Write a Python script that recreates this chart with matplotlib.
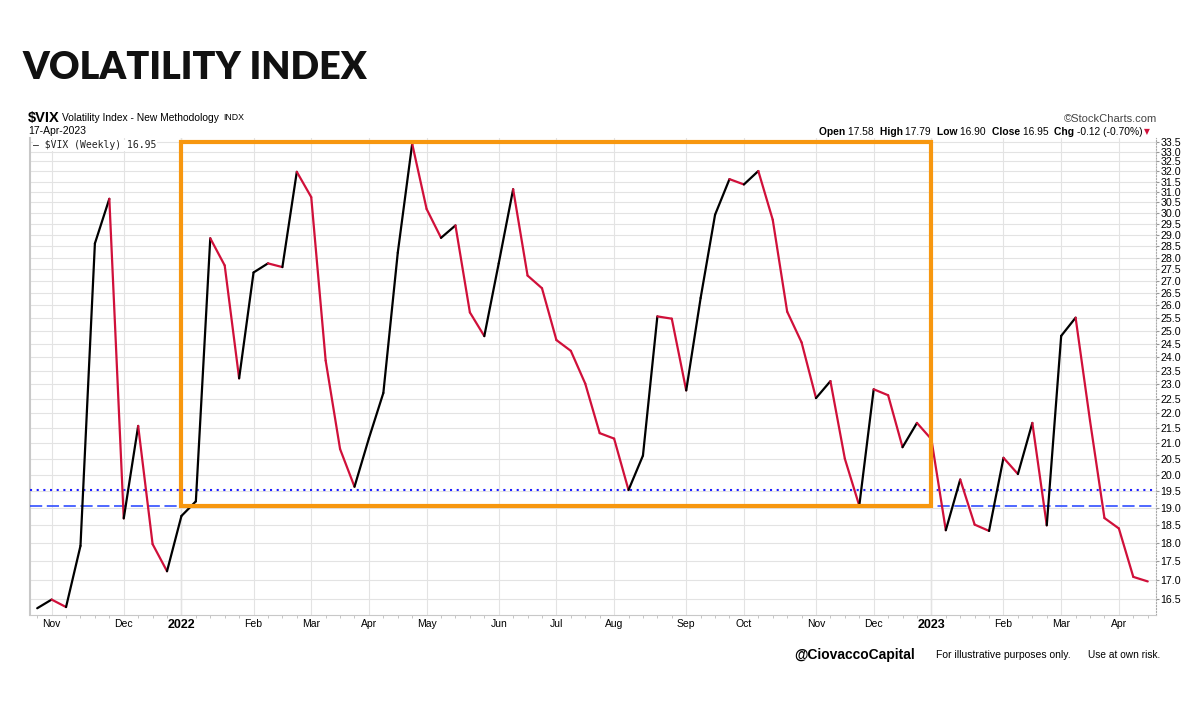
import matplotlib
matplotlib.use("Agg")
import matplotlib.pyplot as plt
import matplotlib.dates as mdates
import matplotlib.ticker as mticker
import numpy as np
import pandas as pd
from matplotlib.patches import Rectangle

# ---- data ----
start_week = "2021-10-25"
vix_weekly = [16.26, 16.48, 16.29, 17.91, 28.62, 30.67, 18.69, 21.57, 17.96, 17.22,
              18.76, 19.19, 28.85, 27.66, 23.22, 27.36, 27.75, 27.59, 31.98, 30.75,
              23.87, 20.81, 19.63, 21.16, 22.70, 28.21, 33.40, 30.19, 28.87, 29.43,
              25.72, 24.79, 27.75, 31.13, 27.23, 26.70, 24.64, 24.23, 23.03, 21.33,
              21.15, 19.53, 20.60, 25.56, 25.47, 22.79, 26.30, 29.92, 31.62, 31.36,
              32.02, 29.69, 25.75, 24.55, 22.52, 23.12, 20.50, 19.06, 22.83, 22.62,
              20.87, 21.67, 21.13, 18.35, 19.85, 18.51, 18.33, 20.53, 20.02, 21.67,
              18.49, 24.80, 25.51, 21.74, 18.70, 18.40, 17.07, 16.95]
month_ticks = ["2021-11-01", "2021-12-06", "2022-01-03", "2022-02-07", "2022-03-07",
               "2022-04-04", "2022-05-02", "2022-06-06", "2022-07-04", "2022-08-01",
               "2022-09-05", "2022-10-03", "2022-11-07", "2022-12-05", "2023-01-02",
               "2023-02-06", "2023-03-06", "2023-04-03"]
month_labels = ["Nov", "Dec", "2022", "Feb", "Mar", "Apr", "May", "Jun", "Jul", "Aug",
                "Sep", "Oct", "Nov", "Dec", "2023", "Feb", "Mar", "Apr"]
y_ticks = [16.5, 17.0, 17.5, 18.0, 18.5, 19.0, 19.5, 20.0, 20.5, 21.0, 21.5, 22.0,
           22.5, 23.0, 23.5, 24.0, 24.5, 25.0, 25.5, 26.0, 26.5, 27.0, 27.5, 28.0,
           28.5, 29.0, 29.5, 30.0, 30.5, 31.0, 31.5, 32.0, 32.5, 33.0, 33.5]
dotted_level = 19.53
dashed_level = 19.06
box_start, box_end = "2022-01-03", "2023-01-02"
box_low, box_high = 19.06, 33.5

dates = pd.date_range(start_week, periods=len(vix_weekly), freq="W-MON")
x = mdates.date2num(dates.to_pydatetime())
v = np.array(vix_weekly)

plt.rcParams['font.family'] = ['Liberation Sans', 'DejaVu Sans']

fig = plt.figure(figsize=(12, 7.2), dpi=100)
ax = fig.add_axes([0.025, 0.1458, 0.9383, 0.6625])

RED = "#d0103a"
for i in range(1, len(v)):
    c = "black" if v[i] >= v[i - 1] else RED
    ax.plot(x[i - 1:i + 1], v[i - 1:i + 1], color=c, lw=1.6, solid_capstyle="round", zorder=4)

ax.set_yscale("log")
ax.set_ylim(16.09, 33.7)
ax.set_xlim(x[0] - 3.5, x[-1] + 4)

ax.yaxis.set_major_locator(mticker.FixedLocator(y_ticks))
ax.yaxis.set_minor_locator(mticker.NullLocator())
ax.yaxis.set_major_formatter(mticker.FuncFormatter(lambda val, p: f"{val:.1f}"))
ax.yaxis.tick_right()
ax.tick_params(axis="y", labelsize=7.7, length=2, pad=1, colors="#999999", labelcolor="black")

mt = mdates.date2num(pd.to_datetime(month_ticks).to_pydatetime())
ax.set_xticks(mt)
ax.set_xticklabels(month_labels)
for lab in ax.get_xticklabels():
    if lab.get_text().isdigit():
        lab.set_fontweight("bold")
        lab.set_fontsize(9)
    else:
        lab.set_fontsize(7.5)
ax.set_xticks(x, minor=True)
ax.tick_params(axis="x", which="major", length=0, pad=3)
ax.tick_params(axis="x", which="minor", length=2, color="#bbbbbb")

ax.grid(True, which="major", axis="both", color="#e3e3e3", lw=0.8, zorder=0)
for t in mt[[2, 14]]:
    ax.axvline(t, color="#cfcfcf", lw=0.9, zorder=0)

ax.spines["top"].set_visible(False)
ax.spines["left"].set_color("#c8c8c8")
ax.spines["left"].set_linewidth(1.5)
ax.spines["bottom"].set_color("#c8c8c8")
ax.spines["right"].set_color("#aaaaaa")
ax.spines["right"].set_linestyle(":")

ax.axhline(dotted_level, color="#1f1fff", lw=1.5, ls=(0, (1, 2.2)), zorder=3)
ax.axhline(dashed_level, color="#1f3fff", lw=1.1, ls=(0, (8, 3)), zorder=3)

bx0 = mdates.date2num(pd.Timestamp(box_start).to_pydatetime())
bx1 = mdates.date2num(pd.Timestamp(box_end).to_pydatetime())
ax.add_patch(Rectangle((bx0, box_low), bx1 - bx0, box_high - box_low, fill=False,
                       edgecolor="#f7970f", lw=3.0, zorder=5))

# legend
ax.text(0.003, 0.995, "\u2014 $VIX (Weekly) 16.95", transform=ax.transAxes, ha="left", va="top",
        fontsize=7, family=["DejaVu Sans Mono"], color="#222222", zorder=6,
        bbox=dict(facecolor="white", edgecolor="none", pad=0.5))

# header texts
fig.text(22 / 1200, 1 - 68 / 720, "VOLATILITY INDEX", fontsize=27.2, fontweight="heavy",
         family=["Lato", "DejaVu Sans"], ha="left", va="center", color="#111111")
fig.text(28 / 1200, 1 - 118 / 720, "$VIX", fontsize=10.5, fontweight="bold", ha="left", va="center")
fig.text(62 / 1200, 1 - 118 / 720, "Volatility Index - New Methodology", fontsize=7.4, ha="left", va="center")
fig.text(223 / 1200, 1 - 118 / 720, "INDX", fontsize=6.3, ha="left", va="center")
fig.text(28 / 1200, 1 - 131 / 720, "17-Apr-2023", fontsize=7.5, ha="left", va="center")
fig.text(1157 / 1200, 1 - 119 / 720, "\u00a9StockCharts.com", fontsize=8, ha="right", va="center",
         color="#444444")

parts = [("Open ", True), ("17.58  ", False), ("High ", True), ("17.79  ", False),
         ("Low ", True), ("16.90  ", False), ("Close ", True), ("16.95  ", False),
         ("Chg ", True), ("-0.12 (-0.70%)", False)]
fig.canvas.draw()
renderer = fig.canvas.get_renderer()
xpos = 819 / 1200
for txt, bold in parts:
    t = fig.text(xpos, 1 - 132 / 720, txt, fontsize=7.4, fontweight="bold" if bold else "normal",
                 ha="left", va="center")
    bb = t.get_window_extent(renderer=renderer)
    xpos += bb.width / 1200
fig.text(xpos + 2 / 1200, 1 - 132 / 720, "\u25bc", fontsize=5.5, color=RED, ha="left", va="center",
         family=["DejaVu Sans"])

# footer
fig.text(915 / 1200, 1 - 655 / 720, "@CiovaccoCapital", fontsize=10, fontweight="bold",
         ha="right", va="center")
fig.text(936 / 1200, 1 - 655 / 720, "For illustrative purposes only.", fontsize=7.5, ha="left", va="center")
fig.text(1088 / 1200, 1 - 655 / 720, "Use at own risk.", fontsize=7.3, ha="left", va="center")

fig.savefig("out.png", dpi=100, facecolor="white")
